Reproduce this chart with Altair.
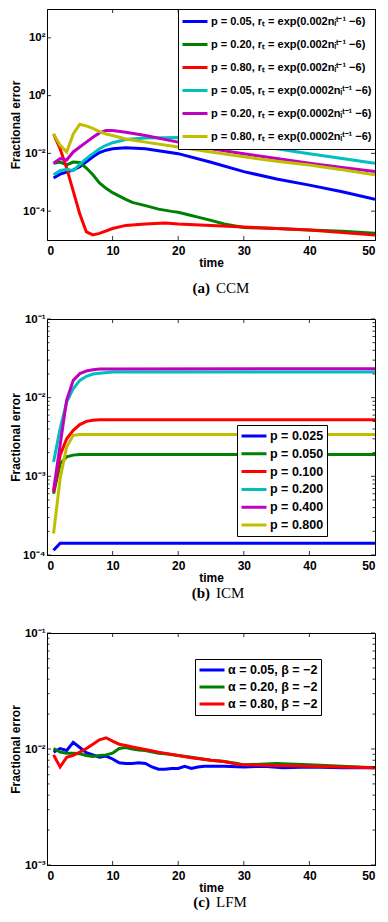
import altair as alt
import pandas as pd

FONT = "Liberation Sans"
SERIF = "Liberation Serif"
W = 328

# ---------------- (a) CCM ----------------
ccm_labels = [
    "p = 0.05, rₜ = exp(0.002nᵢᵗ⁻¹ −6)",
    "p = 0.20, rₜ = exp(0.002nᵢᵗ⁻¹ −6)",
    "p = 0.80, rₜ = exp(0.002nᵢᵗ⁻¹ −6)",
    "p = 0.05, rₜ = exp(0.0002nᵢᵗ⁻¹ −6)",
    "p = 0.20, rₜ = exp(0.0002nᵢᵗ⁻¹ −6)",
    "p = 0.80, rₜ = exp(0.0002nᵢᵗ⁻¹ −6)",
]
ccm_colors = ["#0000ff", "#008000", "#ff0000", "#00bfbf", "#bf00bf", "#bfbf00"]

ccm_t_blue = [1, 2, 3, 4, 5, 6, 7, 8, 9, 10, 12, 15, 20, 25, 30, 35, 40, 45, 50]
ccm_v_blue = [0.00141, 0.00191, 0.00224, 0.00269, 0.00347, 0.00513, 0.00759, 0.0107, 0.0129, 0.0145,
              0.0158, 0.0145, 0.00977, 0.0049, 0.00234, 0.00129, 0.000794, 0.000468, 0.000257]
ccm_t_green = [1, 2, 3, 4, 5, 6, 7, 8, 9, 10, 12, 13, 15, 17, 19, 20, 22, 23, 25, 27, 30, 35, 40, 45, 50]
ccm_v_green = [0.0045, 0.0050, 0.0040, 0.0050, 0.0048, 0.0031, 0.00182, 0.000955, 0.000617, 0.000437,
               0.000257, 0.000200, 0.000155, 0.000117, 0.000098, 0.000091, 0.000071, 0.000062, 0.000048,
               0.000036, 0.000027, 0.000025, 0.000022, 0.000020, 0.000017]
ccm_t_red = [1, 2, 3, 4, 5, 6, 7, 8, 10, 12, 15, 18, 20, 25, 30, 35, 40, 45, 50]
ccm_v_red = [0.0468, 0.0145, 0.00309, 0.000495, 0.000079, 0.000019, 0.000015, 0.000017, 0.000025,
             0.000032, 0.000036, 0.000039, 0.000036, 0.000032, 0.000028, 0.000025, 0.000022, 0.000018, 0.000015]
ccm_t_cyan = [1, 2, 3, 4, 5, 6, 7, 8, 9, 10, 12, 15, 20, 25, 30, 35, 40, 45, 50]
ccm_v_cyan = [0.00182, 0.00251, 0.00282, 0.00251, 0.00417, 0.00661, 0.00977, 0.0145, 0.0191, 0.0234,
              0.0302, 0.0339, 0.0355, 0.0316, 0.0214, 0.0145, 0.00977, 0.00661, 0.00457]
ccm_t_magenta = [1, 2, 3, 4, 5, 6, 7, 8, 9, 10, 12, 15, 20, 25, 30, 35, 40, 45, 50]
ccm_v_magenta = [0.00457, 0.00661, 0.00589, 0.0112, 0.0166, 0.0245, 0.0363, 0.051, 0.0617, 0.0617,
                 0.0537, 0.0417, 0.0245, 0.0145, 0.00977, 0.00661, 0.00457, 0.00324, 0.00234]
ccm_t_yellow = [1, 2, 3, 4, 5, 6, 7, 8, 9, 10, 12, 15, 20, 25, 30, 35, 40, 45, 50]
ccm_v_yellow = [0.0468, 0.0191, 0.0112, 0.0468, 0.102, 0.0891, 0.0729, 0.0565, 0.0468, 0.0417,
                0.0316, 0.0245, 0.0166, 0.0112, 0.00759, 0.00537, 0.00398, 0.00269, 0.00182]

# ---------------- (b) ICM ----------------
icm_labels = ["p = 0.025", "p = 0.050", "p = 0.100", "p = 0.200", "p = 0.400", "p = 0.800"]
icm_colors = ccm_colors
icm_t_blue = [1, 2, 50]
icm_v_blue = [0.000115, 0.000141, 0.000141]
icm_t_green = [1, 2, 3, 4, 5, 6, 50]
icm_v_green = [0.00060, 0.00145, 0.00177, 0.00186, 0.00190, 0.00190, 0.00190]
icm_t_red = [1, 2, 3, 4, 5, 6, 7, 8, 50]
icm_v_red = [0.00063, 0.00186, 0.00300, 0.00385, 0.00455, 0.00500, 0.00515, 0.00525, 0.00525]
icm_t_cyan = [1, 2, 3, 4, 5, 6, 7, 8, 10, 50]
icm_v_cyan = [0.00152, 0.00406, 0.0088, 0.0130, 0.0166, 0.0187, 0.0200, 0.0205, 0.0212, 0.0212]
icm_t_magenta = [1, 2, 3, 4, 5, 6, 7, 8, 50]
icm_v_magenta = [0.00066, 0.0025, 0.0093, 0.0166, 0.0202, 0.0218, 0.0227, 0.0232, 0.0233]
icm_t_yellow = [1, 2, 3, 4, 5, 50]
icm_v_yellow = [0.000187, 0.00093, 0.00237, 0.00332, 0.00340, 0.00340]

# ---------------- (c) LFM ----------------
lfm_labels = ["α = 0.05, β = −2", "α = 0.20, β = −2", "α = 0.80, β = −2"]
lfm_colors = ["#0000ff", "#008000", "#ff0000"]
lfm_t_blue = [1, 2, 3, 4, 5, 6, 7, 8, 9, 10, 11, 12, 13, 14, 15, 16, 17, 18, 19, 20, 21, 22, 23, 24, 25,
              27, 30, 33, 36, 40, 45, 50]
lfm_v_blue = [0.0094, 0.0101, 0.0097, 0.0114, 0.0103, 0.0093, 0.0089, 0.0085, 0.0087, 0.0082, 0.0076,
              0.0075, 0.0075, 0.0076, 0.0075, 0.0070, 0.0067, 0.0067, 0.0068, 0.0068, 0.0071, 0.0068,
              0.0070, 0.0071, 0.0071, 0.0071, 0.0070, 0.0071, 0.0069, 0.0070, 0.0069, 0.0069]
lfm_t_green = [1, 2, 3, 4, 5, 6, 7, 8, 9, 10, 11, 12, 13, 14, 15, 17, 18, 20, 22, 25, 27, 29, 30, 35, 40, 45, 50]
lfm_v_green = [0.0101, 0.0094, 0.0092, 0.0092, 0.0091, 0.0088, 0.0086, 0.0088, 0.0089, 0.0092, 0.0101,
               0.0103, 0.0100, 0.0098, 0.0097, 0.0092, 0.0091, 0.0088, 0.0085, 0.0080, 0.0078, 0.0075,
               0.0073, 0.0075, 0.0073, 0.0071, 0.0069]
lfm_t_red = [1, 2, 3, 4, 5, 6, 7, 8, 9, 10, 11, 12, 13, 15, 17, 20, 22, 25, 27, 29, 30, 35, 40, 45, 50]
lfm_v_red = [0.0089, 0.0070, 0.0085, 0.0088, 0.0094, 0.0101, 0.0110, 0.0120, 0.0125, 0.0117, 0.0110,
             0.0107, 0.0104, 0.0099, 0.0094, 0.0088, 0.0084, 0.0080, 0.0078, 0.0074, 0.0073, 0.0072,
             0.0071, 0.0070, 0.0069]

x_ticks = [0, 10, 20, 30, 40, 50]
x_inner_ticks = [10, 20, 30, 40]

SUP = "['⁰','¹','²','³','⁴','⁵','⁶','⁷','⁸','⁹']"
LABEL_EXPR = ("'10' + (round(log(datum.value)/LN10) < 0 ? '⁻' : '') + "
              + SUP + "[abs(round(log(datum.value)/LN10))]")


def build_df(labels, series):
    rows = []
    for lab, (ts, vs) in zip(labels, series):
        for t, v in zip(ts, vs):
            rows.append({"s": lab, "t": t, "v": v})
    return pd.DataFrame(rows)


def panel(df, labels, colors, ydomain, ylabels, yminor, h, legend_pos, lfs, clip_h, lrow,
          cap_letter, cap_name, cap_dy, spacer_dy=None):
    xenc = alt.X("t:Q", scale=alt.Scale(domain=[0, 50], nice=False, zero=False),
                 axis=alt.Axis(values=x_ticks, title="time", ticks=False, labelPadding=5,
                               labelFontSize=12, titleFontSize=12, titlePadding=1, format="d"))
    yaxis = alt.Axis(values=ylabels, labelExpr=LABEL_EXPR, title="Fractional error", ticks=False,
                     labelPadding=2, labelFontSize=11.5, titleFontSize=12, titlePadding=0,
                     maxExtent=25, minExtent=25)
    yscale = alt.Scale(type="log", domain=ydomain, nice=False)

    if legend_pos == "top-right":
        legend_args = dict(orient="top-right", offset=0)
    else:
        legend_args = dict(orient="none", legendX=legend_pos[0], legendY=legend_pos[1])

    lines = alt.Chart(df).mark_line(strokeWidth=3, clip=True).encode(
        x=xenc,
        y=alt.Y("v:Q", scale=yscale, axis=yaxis),
        color=alt.Color("s:N", scale=alt.Scale(domain=labels, range=colors),
                        legend=alt.Legend(title=None, symbolType="stroke", symbolSize=625,
                                          symbolStrokeWidth=3, clipHeight=clip_h,
                                          labelFont=FONT, labelFontWeight="bold", labelFontSize=lfs,
                                          labelColor="black", labelLimit=400, labelOffset=2,
                                          rowPadding=lrow, padding=3, fillColor="white",
                                          strokeColor="black", cornerRadius=0, **legend_args)),
    )

    xt = pd.DataFrame({"t": x_inner_ticks})
    xt_bottom = alt.Chart(xt).mark_rule(color="black", strokeWidth=0.8).encode(
        x=xenc, y=alt.value(h), y2=alt.value(h - 4))
    xt_top = alt.Chart(xt).mark_rule(color="black", strokeWidth=0.8).encode(
        x=xenc, y=alt.value(0), y2=alt.value(4))

    yt_major = pd.DataFrame({"v": ylabels})
    yt_minor = pd.DataFrame({"v": yminor})
    layers = [lines, xt_bottom, xt_top]
    for d, ln in ((yt_major, 4), (yt_minor, 2.5)):
        if len(d) == 0:
            continue
        layers.append(alt.Chart(d).mark_rule(color="black", strokeWidth=0.8).encode(
            y=alt.Y("v:Q", scale=yscale, axis=yaxis), x=alt.value(0), x2=alt.value(ln)))
        layers.append(alt.Chart(d).mark_rule(color="black", strokeWidth=0.8).encode(
            y=alt.Y("v:Q", scale=yscale, axis=yaxis), x=alt.value(W), x2=alt.value(W - ln)))

    cap1 = alt.Chart(pd.DataFrame({"c": [cap_letter]})).mark_text(
        font=SERIF, fontWeight="bold", fontSize=15, align="right", baseline="middle", color="black"
    ).encode(text="c:N", x=alt.value(163), y=alt.value(h + cap_dy))
    cap2 = alt.Chart(pd.DataFrame({"c": [cap_name]})).mark_text(
        font=SERIF, fontSize=15, align="left", baseline="middle", color="black"
    ).encode(text="c:N", x=alt.value(169), y=alt.value(h + cap_dy))
    layers += [cap1, cap2]
    if spacer_dy is not None:
        spacer = alt.Chart(pd.DataFrame({"c": ["."]})).mark_text(
            fontSize=5, opacity=0, baseline="middle"
        ).encode(text="c:N", x=alt.value(163), y=alt.value(h + spacer_dy))
        layers.append(spacer)
    return alt.layer(*layers).properties(width=W, height=h)


df_a = build_df(ccm_labels, [(ccm_t_blue, ccm_v_blue), (ccm_t_green, ccm_v_green), (ccm_t_red, ccm_v_red),
                             (ccm_t_cyan, ccm_v_cyan), (ccm_t_magenta, ccm_v_magenta),
                             (ccm_t_yellow, ccm_v_yellow)])
df_b = build_df(icm_labels, [(icm_t_blue, icm_v_blue), (icm_t_green, icm_v_green), (icm_t_red, icm_v_red),
                             (icm_t_cyan, icm_v_cyan), (icm_t_magenta, icm_v_magenta),
                             (icm_t_yellow, icm_v_yellow)])
df_c = build_df(lfm_labels, [(lfm_t_blue, lfm_v_blue), (lfm_t_green, lfm_v_green), (lfm_t_red, lfm_v_red)])

minor_b = [m * 10.0 ** e for e in (-4, -3, -2) for m in range(2, 10)]
minor_c = [m * 10.0 ** e for e in (-3, -2) for m in range(2, 10)]

pa = panel(df_a, ccm_labels, ccm_colors, [1e-5, 1e3], [1e-4, 1e-2, 1, 1e2], [], 231,
           "top-right", 11, 19, 4, "(a)", "CCM", 48)
pb = panel(df_b, icm_labels, icm_colors, [1e-4, 1e-1], [1e-4, 1e-3, 1e-2, 1e-1], minor_b, 236,
           (190, 106), 12.5, 16, 1.8, "(b)", "ICM", 38, spacer_dy=52)
pc = panel(df_c, lfm_labels, lfm_colors, [1e-3, 1e-1], [1e-3, 1e-2, 1e-1], minor_c, 232,
           (148, 26), 12.5, 16, 1, "(c)", "LFM", 37)

chart = alt.vconcat(pa, pb, pc, spacing=15).resolve_scale(
    color="independent", x="independent", y="independent"
).resolve_legend(color="independent").properties(
    padding={"left": 0, "top": 0, "right": 0, "bottom": 0}
).configure_view(stroke="black", strokeWidth=1).configure_axis(
    domainColor="black", labelColor="black", titleColor="black", labelFont=FONT, titleFont=FONT,
    labelFontWeight="bold", titleFontWeight="bold", grid=False
)

chart.save("out.html", embed_options={"renderer": "svg", "actions": False})
